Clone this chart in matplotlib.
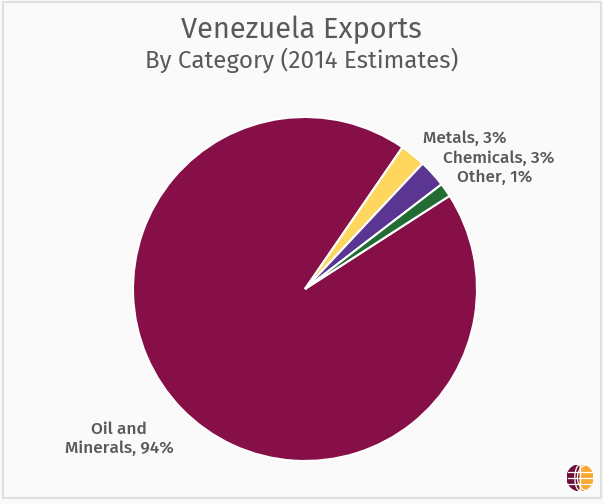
import matplotlib
matplotlib.use("Agg")
import matplotlib.pyplot as plt
from matplotlib.patches import Rectangle, Wedge, Arc

# ---------------------------------------------------------
#  Data
# ---------------------------------------------------------

CATEGORIES = ["Oil and\nMinerals", "Metals", "Chemicals", "Other"]
SHARES = [93.7, 2.4, 2.6, 1.3]
SHARE_LABELS = ["94%", "3%", "3%", "1%"]
COLORS = ["#860f47", "#ffd75e", "#5a3591", "#226c33"]

TEXT_COLOR = "#595959"

plt.rcParams["font.family"] = ["Fira Sans", "DejaVu Sans"]

fig = plt.figure(figsize=(6.03, 5.04), dpi=100)
fig.patch.set_facecolor("#fafafa")

# light frame around the whole chart
fig.add_artist(Rectangle((2.5 / 603, 6 / 504), 598.5 / 603, 496 / 504,
                         transform=fig.transFigure, fill=False,
                         edgecolor="#e0e0e0", linewidth=1.5))

fig.text(0.5, 1 - 38.3 / 504, "Venezuela Exports", ha="center", va="baseline",
         fontsize=20.9, color=TEXT_COLOR)
fig.text(0.5, 1 - 68.3 / 504, "By Category (2014 Estimates)", ha="center",
         va="baseline", fontsize=17.4, color=TEXT_COLOR)

ax = fig.add_axes([0.1635, 0.0171, 0.6846, 0.819])
ax.set_facecolor("none")
ax.pie(SHARES, colors=COLORS, startangle=32.8, counterclock=False,
       wedgeprops=dict(edgecolor="white", linewidth=1.5))
ax.set_xlim(-1.2, 1.2)
ax.set_ylim(-1.2, 1.2)
ax.set_aspect("equal")
ax.axis("off")

label_pos = [(-1.081, -0.952, "center"), (0.686, 0.847, "left"),
             (0.803, 0.731, "left"), (0.886, 0.620, "left")]
for name, pct, (x, y, ha) in zip(CATEGORIES, SHARE_LABELS, label_pos):
    ax.text(x, y, f"{name}, {pct}", ha=ha, va="baseline", fontsize=12.4,
            fontweight="medium", color=TEXT_COLOR, linespacing=1.2,
            multialignment="center")

# small globe logo, bottom right
lax = fig.add_axes([567 / 603, 13.3 / 504, 26 / 603, 26 / 504])
lax.set_xlim(-1, 1)
lax.set_ylim(-1, 1)
lax.axis("off")
lax.add_patch(Wedge((0, 0), 1, 90, 270, color="#6e1038"))
lax.add_patch(Wedge((0, 0), 1, -90, 90, color="#f7a932"))
for yy in (-0.45, 0.0, 0.45):
    lax.plot([-0.95, 0.95], [yy, yy], color="white", lw=0.9)
lax.add_patch(Arc((0.6, 0), 1.6, 2.0, theta1=90, theta2=270, color="white", lw=0.9))
lax.add_patch(Arc((0.0, 0), 0.8, 2.0, theta1=90, theta2=270, color="white", lw=0.9))
lax.plot([0, 0], [-1, 1], color="white", lw=0.9)

fig.savefig("out.png", dpi=100, facecolor=fig.get_facecolor())
